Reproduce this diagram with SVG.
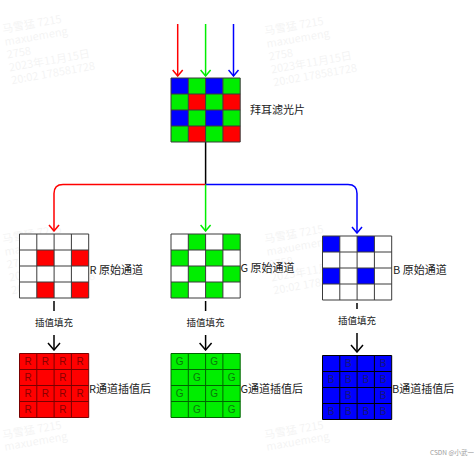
<svg xmlns="http://www.w3.org/2000/svg" xmlns:xlink="http://www.w3.org/1999/xlink" width="474" height="458" viewBox="0 0 474 458">
<style>
.r{fill:#ff0000}.g{fill:#00ee00}.b{fill:#0000ff}.w{fill:#ffffff}
.gl{fill:none;stroke:#3a3a3a;stroke-width:1}
.glr{fill:none;stroke:#7a0000;stroke-width:1}
.glg{fill:none;stroke:#006400;stroke-width:1}
.glb{fill:none;stroke:#000000;stroke-width:1}
.lbl{font-family:"Noto Sans CJK SC","Noto Sans",sans-serif;font-size:11px;fill:#222}
.sm{font-family:"Noto Sans CJK SC","Noto Sans",sans-serif;font-size:9.5px;fill:#222;text-anchor:middle}
.let{font-family:"Liberation Sans","DejaVu Sans",sans-serif;font-size:10px;text-anchor:middle}
.lr{fill:#8a0000}.lg{fill:#0a7a0a}.lb{fill:#15157a}
.wm{font-family:"Noto Sans CJK SC","Noto Sans",sans-serif;font-size:11px;fill:#000;opacity:0.045}
.ln{fill:none;stroke-width:1.5}
</style>
<defs>
<path id="grid" d="M0,0 h69.2 v64 h-69.2 z M17.3,0 v64 M34.6,0 v64 M51.9,0 v64 M0,16 h69.2 M0,32 h69.2 M0,48 h69.2"/>
<marker id="mR" viewBox="-7 -6 8 12" refX="0" refY="0" markerWidth="8" markerHeight="12" markerUnits="userSpaceOnUse" orient="auto"><path d="M-6,-5 L0,0 L-6,5" fill="none" stroke="#ff0000" stroke-width="1.5"/></marker>
<marker id="mG" viewBox="-7 -6 8 12" refX="0" refY="0" markerWidth="8" markerHeight="12" markerUnits="userSpaceOnUse" orient="auto"><path d="M-6,-5 L0,0 L-6,5" fill="none" stroke="#00ee00" stroke-width="1.5"/></marker>
<marker id="mB" viewBox="-7 -6 8 12" refX="0" refY="0" markerWidth="8" markerHeight="12" markerUnits="userSpaceOnUse" orient="auto"><path d="M-6,-5 L0,0 L-6,5" fill="none" stroke="#0000ff" stroke-width="1.5"/></marker>
<marker id="mK" viewBox="-8 -7 9 14" refX="0" refY="0" markerWidth="9" markerHeight="14" markerUnits="userSpaceOnUse" orient="auto"><path d="M-7,-6 L0,0 L-7,6" fill="none" stroke="#000" stroke-width="1.5"/></marker>
</defs>
<rect width="474" height="458" fill="#ffffff"/>

<g id="watermarks">
<g transform="translate(3,33) rotate(-10)"><text class="wm" x="0" y="0">马雪猛 7215</text><text class="wm" x="0" y="13">maxuemeng</text><text class="wm" x="0" y="26">2758</text><text class="wm" x="0" y="39">2023年11月15日</text><text class="wm" x="0" y="52">20:02 178581728</text></g>
<g transform="translate(265,35) rotate(-10)"><text class="wm" x="0" y="0">马雪猛 7215</text><text class="wm" x="0" y="13">maxuemeng</text><text class="wm" x="0" y="26">2758</text><text class="wm" x="0" y="39">2023年11月15日</text><text class="wm" x="0" y="52">20:02 178581728</text></g>
<g transform="translate(3,243) rotate(-10)"><text class="wm" x="0" y="0">马雪猛 7215</text><text class="wm" x="0" y="13">maxuemeng</text><text class="wm" x="0" y="26">2758</text><text class="wm" x="0" y="39">2023年11月15日</text><text class="wm" x="0" y="52">20:02 178581728</text></g>
<g transform="translate(265,243) rotate(-10)"><text class="wm" x="0" y="0">马雪猛 7215</text><text class="wm" x="0" y="13">maxuemeng</text><text class="wm" x="0" y="26">2758</text><text class="wm" x="0" y="39">2023年11月15日</text><text class="wm" x="0" y="52">20:02 178581728</text></g>
<g transform="translate(3,439) rotate(-10)"><text class="wm" x="0" y="0">马雪猛 7215</text><text class="wm" x="0" y="12">maxuemeng</text></g>
<g transform="translate(265,439) rotate(-10)"><text class="wm" x="0" y="0">马雪猛 7215</text><text class="wm" x="0" y="12">maxuemeng</text></g>
</g>

<g id="connectors">
<line class="ln" x1="177.7" y1="24" x2="177.7" y2="76" stroke="#ff0000" marker-end="url(#mR)"/>
<line class="ln" x1="205.6" y1="24" x2="205.6" y2="76" stroke="#00ee00" marker-end="url(#mG)"/>
<line class="ln" x1="233.5" y1="24" x2="233.5" y2="76" stroke="#0000ff" marker-end="url(#mB)"/>
<line class="ln" x1="205.6" y1="142" x2="205.6" y2="184.5" stroke="#000"/>
<path class="ln" d="M205.6,184.5 H63 Q54,184.5 54,193.5 V231" stroke="#ff0000" marker-end="url(#mR)"/>
<path class="ln" d="M205.6,184.5 H348 Q357,184.5 357,193.5 V233" stroke="#0000ff" marker-end="url(#mB)"/>
<path class="ln" d="M205.6,184.5 V231" stroke="#00ee00" marker-end="url(#mG)"/>
<line class="ln" x1="54" y1="301" x2="54" y2="311" stroke="#000"/>
<line class="ln" x1="54" y1="335" x2="54" y2="350" stroke="#000" marker-end="url(#mK)"/>
<line class="ln" x1="205.6" y1="301" x2="205.6" y2="311" stroke="#000"/>
<line class="ln" x1="205.6" y1="335" x2="205.6" y2="350" stroke="#000" marker-end="url(#mK)"/>
<line class="ln" x1="357" y1="303" x2="357" y2="309" stroke="#000"/>
<line class="ln" x1="357" y1="333" x2="357" y2="352" stroke="#000" marker-end="url(#mK)"/>
</g>

<g id="bayer">
<rect class="b" x="171" y="78" width="17.3" height="16"/><rect class="g" x="188.3" y="78" width="17.3" height="16"/><rect class="b" x="205.6" y="78" width="17.3" height="16"/><rect class="g" x="222.9" y="78" width="17.3" height="16"/>
<rect class="g" x="171" y="94" width="17.3" height="16"/><rect class="r" x="188.3" y="94" width="17.3" height="16"/><rect class="g" x="205.6" y="94" width="17.3" height="16"/><rect class="r" x="222.9" y="94" width="17.3" height="16"/>
<rect class="b" x="171" y="110" width="17.3" height="16"/><rect class="g" x="188.3" y="110" width="17.3" height="16"/><rect class="b" x="205.6" y="110" width="17.3" height="16"/><rect class="g" x="222.9" y="110" width="17.3" height="16"/>
<rect class="g" x="171" y="126" width="17.3" height="16"/><rect class="r" x="188.3" y="126" width="17.3" height="16"/><rect class="g" x="205.6" y="126" width="17.3" height="16"/><rect class="r" x="222.9" y="126" width="17.3" height="16"/>
<use xlink:href="#grid" x="171" y="78" class="gl"/>
<text class="lbl" x="250" y="114">拜耳滤光片</text>
</g>

<g id="r-raw">
<rect class="w" x="19.5" y="234" width="69.2" height="64"/>
<rect class="r" x="36.8" y="250" width="17.3" height="16"/><rect class="r" x="71.4" y="250" width="17.3" height="16"/>
<rect class="r" x="36.8" y="282" width="17.3" height="16"/><rect class="r" x="71.4" y="282" width="17.3" height="16"/>
<use xlink:href="#grid" x="19.5" y="234" class="gl"/>
<text class="lbl" x="89.5" y="274">R 原始通道</text>
</g>

<g id="g-raw">
<rect class="w" x="171" y="234" width="69.2" height="64"/>
<rect class="g" x="188.3" y="234" width="17.3" height="16"/><rect class="g" x="222.9" y="234" width="17.3" height="16"/>
<rect class="g" x="171" y="250" width="17.3" height="16"/><rect class="g" x="205.6" y="250" width="17.3" height="16"/>
<rect class="g" x="188.3" y="266" width="17.3" height="16"/><rect class="g" x="222.9" y="266" width="17.3" height="16"/>
<rect class="g" x="171" y="282" width="17.3" height="16"/><rect class="g" x="205.6" y="282" width="17.3" height="16"/>
<use xlink:href="#grid" x="171" y="234" class="gl"/>
<text class="lbl" x="240.5" y="272">G 原始通道</text>
</g>

<g id="b-raw">
<rect class="w" x="322.5" y="236" width="69.2" height="64"/>
<rect class="b" x="322.5" y="236" width="17.3" height="16"/><rect class="b" x="357.1" y="236" width="17.3" height="16"/>
<rect class="b" x="322.5" y="268" width="17.3" height="16"/><rect class="b" x="357.1" y="268" width="17.3" height="16"/>
<use xlink:href="#grid" x="322.5" y="236" class="gl"/>
<text class="lbl" x="393" y="274">B 原始通道</text>
</g>

<g id="interp-labels">
<text class="sm" x="54" y="326">插值填充</text>
<text class="sm" x="205.6" y="326">插值填充</text>
<text class="sm" x="357" y="323.5">插值填充</text>
</g>

<g id="r-full">
<rect class="r" x="19.5" y="353.5" width="69.2" height="64"/>
<use xlink:href="#grid" x="19.5" y="353.5" class="glr"/>
<g class="let lr">
<text x="28.15" y="365">R</text><text x="45.45" y="365">R</text><text x="62.75" y="365">R</text><text x="80.05" y="365">R</text>
<text x="28.15" y="381">R</text><text x="62.75" y="381">R</text>
<text x="28.15" y="397">R</text><text x="45.45" y="397">R</text><text x="62.75" y="397">R</text><text x="80.05" y="397">R</text>
<text x="28.15" y="413">R</text><text x="62.75" y="413">R</text>
</g>
<text class="lbl" x="89" y="393">R通道插值后</text>
</g>

<g id="g-full">
<rect class="g" x="171" y="353.5" width="69.2" height="64"/>
<use xlink:href="#grid" x="171" y="353.5" class="glg"/>
<g class="let lg">
<text x="179.65" y="365">G</text><text x="214.25" y="365">G</text>
<text x="196.95" y="381">G</text><text x="231.55" y="381">G</text>
<text x="179.65" y="397">G</text><text x="214.25" y="397">G</text>
<text x="196.95" y="413">G</text><text x="231.55" y="413">G</text>
</g>
<text class="lbl" x="240.5" y="393">G通道插值后</text>
</g>

<g id="b-full">
<rect class="b" x="322.5" y="355.5" width="69.2" height="64"/>
<use xlink:href="#grid" x="322.5" y="355.5" class="glb"/>
<g class="let lb">
<text x="348.45" y="367">B</text><text x="383.05" y="367">B</text>
<text x="331.15" y="383">B</text><text x="348.45" y="383">B</text><text x="365.75" y="383">B</text><text x="383.05" y="383">B</text>
<text x="348.45" y="399">B</text><text x="383.05" y="399">B</text>
<text x="331.15" y="415">B</text><text x="348.45" y="415">B</text><text x="365.75" y="415">B</text><text x="383.05" y="415">B</text>
</g>
<text class="lbl" x="392" y="393">B通道插值后</text>
</g>

<text x="430" y="454.5" style="font-family:'Noto Sans CJK SC','Noto Sans',sans-serif;font-size:6.5px;fill:#9a9a9a">CSDN @小武一</text>
</svg>
